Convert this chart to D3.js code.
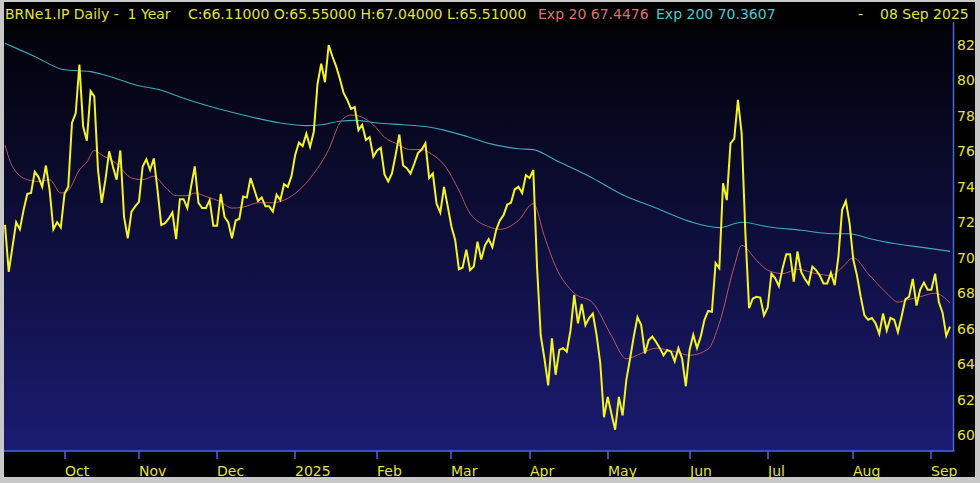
<!DOCTYPE html>
<html lang="en">
<head>
<meta charset="UTF-8">
<script src="https://cdnjs.cloudflare.com/ajax/libs/d3/7.8.5/d3.min.js"></script>
<title>BRNe1.IP Daily</title>
<style>
    body { margin: 0; background: #000; }
    text { font-family: "DejaVu Sans", Verdana, sans-serif; white-space: pre; }
</style>
</head>
<body>
<svg id="chart" width="980" height="483"></svg>
<script>
    // daily closes, one per trading day
    var closes = [
        71.85, 69.2, 70.6, 72.0, 71.6, 72.7, 73.6, 73.65, 74.85, 74.55,
        74.0, 75.2, 73.8, 71.6, 72.0, 71.7, 73.6, 74.0, 77.6, 78.15,
        80.9, 77.4, 76.6, 79.4, 79.1, 74.95, 73.1, 74.4, 76.0, 75.15,
        74.4, 76.05, 72.3, 71.1, 72.6, 72.9, 73.15, 75.15, 75.55, 74.95,
        75.6, 73.8, 71.85, 71.95, 72.2, 72.55, 71.05, 73.3, 73.3, 72.8,
        74.0, 75.15, 73.1, 72.8, 72.8, 73.25, 71.8, 71.8, 73.6, 72.3,
        72.0, 71.1, 72.1, 72.2, 73.45, 73.4, 74.5, 73.85, 73.2, 73.4,
        72.9, 72.9, 72.6, 73.55, 73.25, 74.15, 74.0, 74.6, 75.8, 76.5,
        76.3, 77.0, 76.25, 77.1, 79.8, 80.95, 79.9, 82.0, 81.35, 80.8,
        80.1, 79.3, 78.9, 78.4, 78.5, 77.2, 77.5, 76.65, 76.8, 75.7,
        76.05, 76.2, 74.7, 74.3, 74.75, 75.8, 76.95, 75.2, 75.05, 74.75,
        75.3, 75.9, 76.1, 76.45, 74.5, 74.75, 73.05, 72.55, 74.0, 72.9,
        71.75, 71.0, 69.35, 69.45, 70.45, 69.3, 69.5, 70.9, 69.9, 70.7,
        71.05, 70.6, 71.55, 72.1, 72.4, 73.0, 73.1, 73.85, 74.0, 73.65,
        74.65, 74.5, 74.95, 69.5, 65.6, 64.3, 62.8, 65.45, 63.4, 64.8,
        64.9, 64.7, 65.9, 67.9, 66.3, 67.4, 66.2, 66.6, 66.85, 65.65,
        64.05, 61.0, 62.15, 61.2, 60.3, 62.15, 61.1, 63.1, 64.3, 65.55,
        66.65, 66.2, 64.6, 65.35, 65.55, 65.25, 64.9, 64.5, 64.8, 64.7,
        64.15, 64.9, 64.3, 62.75, 64.8, 65.65, 64.9, 65.55, 66.5, 67.0,
        66.95, 69.7, 69.4, 74.2, 73.25, 76.45, 76.7, 78.9, 77.0, 71.4,
        67.15, 67.7, 67.8, 67.75, 66.75, 67.2, 69.1, 68.85, 68.4, 69.4,
        70.2, 70.2, 68.65, 70.35, 69.2, 68.8, 68.5, 69.5, 69.3, 69.0,
        68.55, 68.55, 69.15, 68.45, 70.05, 72.7, 73.2, 71.95, 69.9, 69.0,
        67.8, 66.75, 66.5, 66.6, 66.3, 65.7, 66.85, 65.9, 66.6, 66.5,
        65.8, 66.7, 67.65, 67.8, 68.8, 67.3, 68.2, 68.6, 68.2, 68.2,
        69.1, 67.5, 66.9, 65.6, 66.11
    ];

    // moving averages, [day index, value]
    var ema20 = [
        [0, 76.35], [2, 75.15], [6, 74.4], [9, 74.3], [12, 74.4], [15, 73.65], [17, 73.8],
        [20, 74.95], [22, 75.4], [24, 76.05], [26, 75.8], [30, 75.3], [34, 74.5], [37, 74.4],
        [40, 74.6], [43, 74.0], [46, 73.5], [49, 73.5], [51, 73.65], [54, 73.45], [58, 73.15],
        [61, 72.8], [64, 72.85], [68, 73.1], [72, 73.1], [76, 73.35], [80, 74.0], [83, 74.75],
        [87, 76.1], [90, 77.6], [93, 78.05], [95, 78.0], [99, 77.5], [102, 76.8], [105, 76.45],
        [109, 76.1], [112, 76.1], [115, 75.8], [118, 75.25], [122, 73.8], [125, 72.5], [130, 71.75],
        [133, 71.6], [138, 72.1], [142, 73.05], [145, 71.2], [148, 69.5], [153, 68.0], [158, 67.45],
        [163, 65.6], [167, 64.3], [171, 64.6], [175, 64.9], [180, 64.7], [184, 64.5], [189, 64.85],
        [192, 66.3], [196, 69.5], [198, 70.7], [202, 69.85], [205, 69.3], [209, 69.1], [213, 69.35],
        [218, 69.1], [222, 69.0], [225, 69.45], [228, 70.0], [232, 69.1], [237, 68.0], [240, 67.5],
        [243, 67.65], [246, 67.8], [250, 68.0], [254, 67.45]
    ];
    var ema200 = [
        [0, 82.1], [8, 81.35], [16, 80.6], [23, 80.5], [30, 80.1], [36, 79.7], [41, 79.5],
        [48, 79.0], [54, 78.6], [64, 78.05], [74, 77.6], [81, 77.45], [85, 77.5], [90, 77.7],
        [94, 77.75], [100, 77.6], [107, 77.5], [113, 77.4], [118, 77.2], [124, 76.85], [130, 76.45],
        [138, 76.15], [142, 76.1], [148, 75.5], [157, 74.6], [166, 73.55], [175, 72.8], [184, 72.05],
        [192, 71.7], [198, 72.0], [205, 71.75], [214, 71.55], [223, 71.35], [227, 71.35], [232, 71.1],
        [239, 70.8], [246, 70.6], [254, 70.36]
    ];

    // first trading day of each month
    var monthLabels = ['Oct', 'Nov', 'Dec', '2025', 'Feb', 'Mar', 'Apr', 'May', 'Jun', 'Jul', 'Aug', 'Sep'];
    var monthIndex = [16, 36, 57, 78, 100, 120, 141, 162, 184, 205, 228, 249];
    var priceTicks = [60, 62, 64, 66, 68, 70, 72, 74, 76, 78, 80, 82];

    var svg = d3.select('#chart');
    var plot = { left: 4, right: 953.5, top: 28, bottom: 451 };

    var x = d3.scaleLinear().domain([0, closes.length - 1]).range([5, 950]);
    var y = d3.scaleLinear().domain([60, 82]).range([435, 45]);

    // frame
    svg.append('rect').attr('width', 980).attr('height', 483).attr('fill', '#c8c8c8');
    svg.append('rect').attr('x', 4).attr('y', 2).attr('width', 971).attr('height', 475).attr('fill', '#000');

    var defs = svg.append('defs');
    var grad = defs.append('linearGradient').attr('id', 'bg')
            .attr('x1', 0).attr('y1', 0).attr('x2', 0).attr('y2', 1);
    grad.append('stop').attr('offset', '0%').attr('stop-color', '#020208');
    grad.append('stop').attr('offset', '100%').attr('stop-color', '#1b1b73');
    defs.append('clipPath').attr('id', 'clip').append('rect')
            .attr('x', plot.left).attr('y', plot.top)
            .attr('width', plot.right - plot.left).attr('height', plot.bottom - plot.top);

    svg.append('rect')
            .attr('x', plot.left).attr('y', plot.top)
            .attr('width', plot.right - plot.left).attr('height', plot.bottom - plot.top)
            .attr('fill', 'url(#bg)');

    var lines = svg.append('g').attr('clip-path', 'url(#clip)');

    var smooth = d3.line()
            .x(function(d) { return x(d[0]); })
            .y(function(d) { return y(d[1]); })
            .curve(d3.curveMonotoneX);

    lines.append('path').datum(ema200)
            .attr('d', smooth).attr('fill', 'none')
            .attr('stroke', '#3aaac0').attr('stroke-width', 1.1);
    lines.append('path').datum(ema20)
            .attr('d', smooth).attr('fill', 'none')
            .attr('stroke', '#b4585c').attr('stroke-width', 1);

    var priceLine = d3.line()
            .x(function(d, i) { return x(i); })
            .y(function(d) { return y(d); });
    lines.append('path').datum(closes)
            .attr('d', priceLine).attr('fill', 'none')
            .attr('stroke', '#f4f420').attr('stroke-width', 2)
            .attr('stroke-linejoin', 'miter');

    // axes
    var axisColor = '#4a66dc';
    var textColor = '#e2e23a';
    svg.append('line')
            .attr('x1', plot.left).attr('x2', plot.right + 1)
            .attr('y1', plot.bottom).attr('y2', plot.bottom)
            .attr('stroke', axisColor).attr('stroke-width', 1.5);
    svg.append('line')
            .attr('x1', plot.right).attr('x2', plot.right)
            .attr('y1', 22).attr('y2', plot.bottom)
            .attr('stroke', axisColor).attr('stroke-width', 1.5);

    var xt = svg.append('g').selectAll('.xtick')
            .data(monthIndex)
            .enter().append('g')
            .attr('class', 'xtick')
            .attr('transform', function(d) { return 'translate(' + Math.round(x(d)) + ',0)'; });
    xt.append('line')
            .attr('y1', plot.bottom).attr('y2', 459)
            .attr('stroke', axisColor).attr('stroke-width', 1.5);
    xt.append('text')
            .attr('x', 0).attr('y', 476)
            .attr('fill', textColor).attr('font-size', 14)
            .text(function(d, i) { return monthLabels[i]; });

    svg.append('g').selectAll('.ytick')
            .data(priceTicks)
            .enter().append('text')
            .attr('class', 'ytick')
            .attr('x', 957)
            .attr('y', function(d) { return y(d) + 5; })
            .attr('fill', textColor).attr('font-size', 14)
            .text(function(d) { return d; });

    // header
    var header = [
        { x: 5, text: 'BRNe1.IP Daily -  1 Year', color: textColor },
        { x: 188, text: 'C:66.11000 O:65.55000 H:67.04000 L:65.51000', color: textColor },
        { x: 538, text: 'Exp 20 67.4476', color: '#de7064' },
        { x: 656, text: 'Exp 200 70.3607', color: '#44ccd4' },
        { x: 858, text: '-', color: textColor },
        { x: 880, text: '08 Sep 2025', color: textColor }
    ];
    svg.append('g').selectAll('.head')
            .data(header)
            .enter().append('text')
            .attr('class', 'head')
            .attr('x', function(d) { return d.x; })
            .attr('y', 19)
            .attr('fill', function(d) { return d.color; })
            .attr('font-size', 14)
            .text(function(d) { return d.text; });
</script>
</body>
</html>
